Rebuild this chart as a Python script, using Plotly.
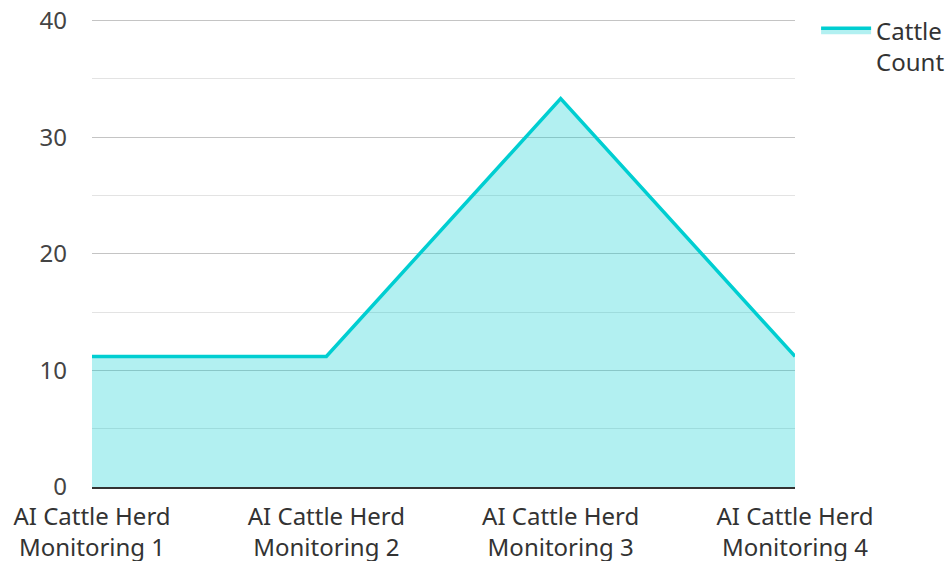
import plotly.graph_objects as go

categories = ["AI Cattle Herd Monitoring 1", "AI Cattle Herd Monitoring 2",
              "AI Cattle Herd Monitoring 3", "AI Cattle Herd Monitoring 4"]
tick_labels = ["AI Cattle Herd<br>Monitoring 1", "AI Cattle Herd<br>Monitoring 2",
               "AI Cattle Herd<br>Monitoring 3", "AI Cattle Herd<br>Monitoring 4"]
cattle_count = [11.2, 11.2, 33.3, 11.2]
series_name = "Cattle<br>Count"

FONT = "Noto Sans"
FS = 24
fig = go.Figure()
fig.add_trace(go.Scatter(
    x=categories, y=cattle_count, name=series_name, mode="lines",
    line=dict(color="#00CED1", width=3.5),
    fill="tozeroy", fillcolor="rgba(0,206,209,0.30)",
))

fig.update_layout(
    width=952, height=561,
    margin=dict(l=92, r=157, t=16.5, b=74, autoexpand=False),
    paper_bgcolor="white", plot_bgcolor="white",
    font=dict(family=FONT, size=FS, color="#444"),
    showlegend=True,
    legend=dict(x=1.03, y=1.019, xanchor="left", yanchor="top", valign="top",
                font=dict(size=FS, color="#333"), itemwidth=50,
                bgcolor="rgba(0,0,0,0)"),
    xaxis=dict(type="category", range=[0, 3], tickmode="array",
               tickvals=categories, ticktext=tick_labels, automargin=False,
               showgrid=False, showline=True, linecolor="#333", linewidth=2,
               ticks="", ticklabelstandoff=7,
               tickfont=dict(size=FS, color="#333"), zeroline=False),
    yaxis=dict(range=[0, 40.3], tickvals=[0, 10, 20, 30, 40], automargin=False,
               showgrid=True, gridcolor="#c4c4c4", gridwidth=1,
               minor=dict(tickvals=[5, 15, 25, 35], showgrid=True,
                          gridcolor="#e3e3e3", gridwidth=1),
               zeroline=False, showline=False, ticks="",
               ticklabelstandoff=24,
               tickfont=dict(size=FS, color="#444")),
)

fig.write_html("out.html", config={"displayModeBar": False},
               post_script="document.body.style.margin='0';")
